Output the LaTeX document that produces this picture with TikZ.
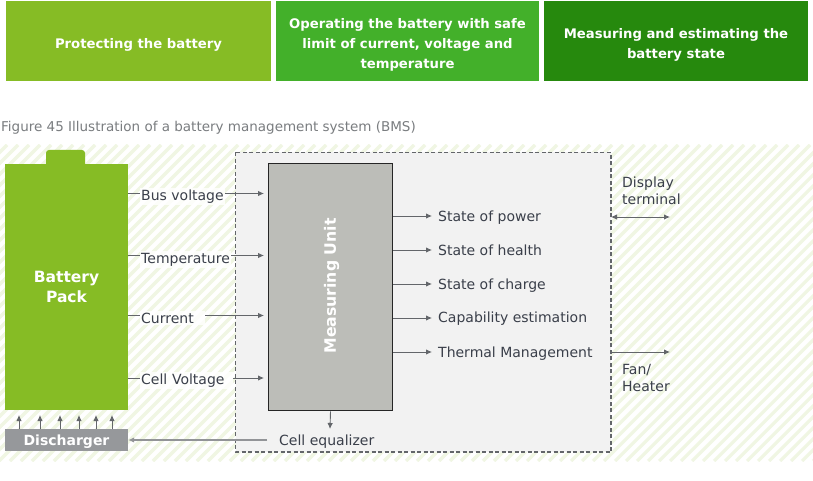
\documentclass[tikz,border=0pt]{standalone}
\usepackage{fontspec}
\setmainfont{DejaVu Sans}
\usetikzlibrary{arrows.meta}
\definecolor{lgreen}{HTML}{86BC25}
\definecolor{mgreen}{HTML}{43B02A}
\definecolor{dgreen}{HTML}{26890D}
\definecolor{stripe}{HTML}{F0F6E3}
\definecolor{panel}{HTML}{F2F2F2}
\definecolor{unit}{HTML}{BCBDB8}
\definecolor{dis}{HTML}{96989B}
\definecolor{ink}{HTML}{3A3F4A}
\definecolor{linec}{HTML}{63666A}
\tikzset{
 topbox/.style={inner sep=0pt,text=white,font=\fontsize{13.2}{20}\selectfont\bfseries,align=center,minimum height=80pt},
 lbl/.style={inner sep=0pt,text=ink,anchor=west,font=\fontsize{14}{17}\selectfont},
 lblbg/.style={lbl,fill=white,fill opacity=.8,text opacity=1,inner xsep=1pt,inner ysep=2pt},
 conn/.style={draw=linec,line width=.9pt},
 arr/.style={conn,-{Latex[length=6pt,width=5.5pt]}},
 darr/.style={conn,{Latex[length=6pt,width=5.5pt]}-{Latex[length=6pt,width=5.5pt]}},
 whitebold/.style={inner sep=0pt,text=white,font=\fontsize{15.5}{20}\selectfont\bfseries,align=center}
}
\begin{document}
\begin{tikzpicture}[x=1pt,y=-1pt]
\useasboundingbox (0,0) rectangle (813,481);
\fill[white] (0,0) rectangle (813,481);
% top boxes
\fill[lgreen] (6,1) rectangle (271,81);
\fill[mgreen] (276,1) rectangle (539,81);
\fill[dgreen] (544,1) rectangle (808,81);
\node[topbox] (t1) at (138.5,44.5) {Protecting the battery};
\node[topbox] (t2) at (407.5,44.5) {Operating the battery with safe\\limit of current, voltage and\\temperature};
\node[topbox] (t3) at (676,44.5) {Measuring and estimating the\\battery state};
\node[inner sep=0pt,anchor=west,text=linec!85!white,font=\fontsize{13.5}{16}\selectfont] (cap) at (1,128) {Figure 45 Illustration of a battery management system (BMS)};
% hatch
\begin{scope}
\clip (0,145) rectangle (813,461);
\foreach \i in {-320,-309,...,813}{
  \draw[stripe,line width=3.2pt] (\i,461) -- ({\i+316},145);
}
\end{scope}
% panel
\draw[fill=panel,draw=linec,line width=1.2pt,dash pattern=on 4pt off 2.5pt] (235.5,152.5) rectangle (611,452);
\coordinate (panelR) at (611,217);
% battery
\fill[lgreen,rounded corners=3pt] (46,150) -- (85,150) -- (85,170) -- (46,170) -- cycle;
\fill[lgreen] (5,164) rectangle (128,410);
\node[whitebold] (batt) at (66.5,287) {Battery\\Pack};
\coordinate (bB) at (128,193.5);
\coordinate (bT) at (128,255.5);
\coordinate (bC) at (128,315.5);
\coordinate (bV) at (128,378);
% discharger
\node[fill=dis,minimum width=123pt,minimum height=22pt,inner sep=0pt,text=white,font=\fontsize{14}{17}\selectfont\bfseries] (disch) at (66.5,440) {};
\node[inner sep=0pt,text=white,font=\fontsize{14}{17}\selectfont\bfseries] (dischT) at (66.5,441.5) {Discharger};
% measuring unit
\node[draw=black!85,line width=1.8pt,fill=unit,minimum width=124pt,minimum height=247pt,inner sep=0pt] (mu) at (330.5,287) {};
\node[rotate=90,text=white,inner sep=0pt,font=\fontsize{15.7}{19}\selectfont\bfseries] (mut) at (331.5,286) {Measuring Unit};
% left labels and connectors
\node[lblbg] (l1) at (140,196.5) {Bus voltage};
\node[lblbg] (l2) at (140,259.5) {Temperature};
\node[lblbg,text width=63pt] (l3) at (140,318) {Current};
\node[lblbg,text width=91pt] (l4) at (140,380.5) {Cell Voltage};
\foreach \b/\l/\y in {bB/l1/193.5,bT/l2/255.5,bC/l3/315.5,bV/l4/378}{
  \draw[conn] (\b) -- (\l.west |- \b);
  \draw[arr] (\l.east |- \b) -- (264,\y);
}
% right labels
\node[lbl] (r1) at (438,217.5) {State of power};
\node[lbl] (r2) at (438,250.5) {State of health};
\node[lbl] (r3) at (438,285.5) {State of charge};
\node[lbl] (r4) at (438,319) {Capability estimation};
\node[lbl] (r5) at (438,353.5) {Thermal Management};
\coordinate (a1) at (432,216);
\coordinate (a2) at (432,250);
\coordinate (a3) at (432,284);
\coordinate (a4) at (432,318);
\coordinate (a5) at (432,352);
\foreach \a in {a1,a2,a3,a4,a5}{
  \draw[arr] (mu.east |- \a) -- (\a);
}
% right side
\node[lbl,align=left] (disp) at (622,191) {Display\\terminal};
\node[lbl,align=left] (fan) at (622,378) {Fan/\\Heater};
\coordinate (dE) at (670,217);
\draw[darr] (panelR) -- (dE);
\coordinate (fS) at (611,352);
\coordinate (fE) at (670,352);
\draw[arr] (fS) -- (fE);
% cell equalizer
\node[lbl] (ce) at (279,441.5) {Cell equalizer};
\draw[arr] (mu.south) -- (330,429);
\draw[conn,line width=1.2pt,draw=linec!70!white,-{Latex[length=6pt,width=5.5pt]}] (267,440) -- (disch.east);
% up arrows
\foreach \x in {19,40,60,79,96,112}{
  \draw[arr] (\x,429) -- (\x,415);
}
\end{tikzpicture}
\end{document}
